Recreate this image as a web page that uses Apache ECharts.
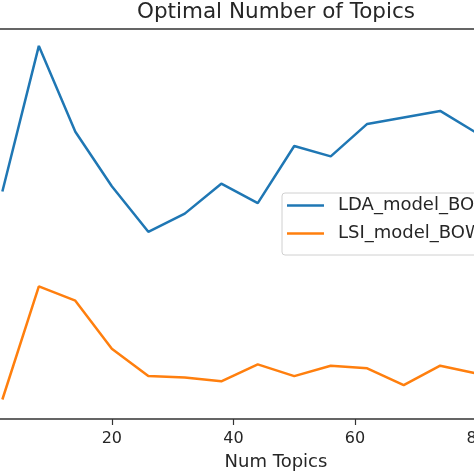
<!DOCTYPE html>
<html>
<head>
<meta charset="utf-8">
<script src="https://cdn.jsdelivr.net/npm/echarts@6/dist/echarts.min.js"></script>
<style>
  html, body { margin: 0; padding: 0; background: #fff; overflow: hidden; }
  /* the original figure is a crop: the axes run past both edges */
  #wrap { position: relative; width: 474px; height: 474px; overflow: hidden; }
  #chart { position: absolute; left: -25px; top: 0; width: 602px; height: 474px; }
</style>
</head>
<body>
<div id="wrap"><div id="chart"></div></div>
<script>
// number of topics tried
const numTopics = [2, 8, 14, 20, 26, 32, 38, 44, 50, 56, 62, 68, 74, 80];
// coherence values
const ldaValues = [0.425, 0.537, 0.471, 0.429, 0.394, 0.408, 0.431, 0.416, 0.460, 0.452, 0.477, 0.482, 0.487, 0.470];
const lsiValues = [0.265, 0.352, 0.341, 0.304, 0.283, 0.282, 0.279, 0.292, 0.283, 0.291, 0.289, 0.276, 0.291, 0.285];
const xTicks = [20, 40, 60, 80];
const seriesNames = ['LDA_model_BOW', 'LSI_model_BOW'];

const font = 'DejaVu Sans';
const textColor = '#262626';

function pairs(values) {
    return numTopics.map((t, i) => [t, values[i]]);
}

const myChart = echarts.init(document.getElementById('chart'));
const option = {
    animation: false,
    title: {
        text: 'Optimal Number of Topics',
        left: 'center',
        top: 1,
        padding: 0,
        textStyle: { fontFamily: font, fontSize: 21.5, fontWeight: 'normal', color: textColor }
    },
    grid: {
        left: 0,
        right: 0,
        top: 29,
        bottom: 55,
        outerBoundsMode: 'none',
        show: true,
        borderColor: '#333',
        borderWidth: 1.3
    },
    legend: {
        orient: 'vertical',
        left: 307,
        top: 193,
        padding: [3, 60, 12, 5],
        icon: 'rect',
        itemWidth: 37,
        itemHeight: 2.5,
        itemGap: 9,
        backgroundColor: 'rgba(255,255,255,0.8)',
        borderColor: '#d0d0d0',
        borderWidth: 1,
        borderRadius: 3,
        textStyle: { fontFamily: font, fontSize: 18, color: textColor, lineHeight: 19, padding: [0, 0, 0, 9] },
        data: seriesNames
    },
    xAxis: {
        type: 'value',
        min: -2.5,
        max: 96.5,
        name: 'Num Topics',
        nameLocation: 'middle',
        nameGap: 34,
        nameTextStyle: { fontFamily: font, fontSize: 18, color: textColor },
        axisLine: { show: false },
        axisTick: { show: true, length: 6, customValues: xTicks, lineStyle: { color: '#333', width: 1.2 } },
        axisLabel: { customValues: xTicks, margin: 12, fontFamily: font, fontSize: 16, color: textColor },
        splitLine: { show: false }
    },
    yAxis: {
        type: 'value',
        min: 0.25,
        max: 0.55,
        show: false,
        splitLine: { show: false }
    },
    series: [
        {
            name: seriesNames[0],
            type: 'line',
            data: pairs(ldaValues),
            symbol: 'none',
            color: '#1f77b4',
            lineStyle: { width: 2.5, color: '#1f77b4' }
        },
        {
            name: seriesNames[1],
            type: 'line',
            data: pairs(lsiValues),
            symbol: 'none',
            color: '#ff7f0e',
            lineStyle: { width: 2.5, color: '#ff7f0e' }
        }
    ]
};
myChart.setOption(option);
</script>
</body>
</html>
